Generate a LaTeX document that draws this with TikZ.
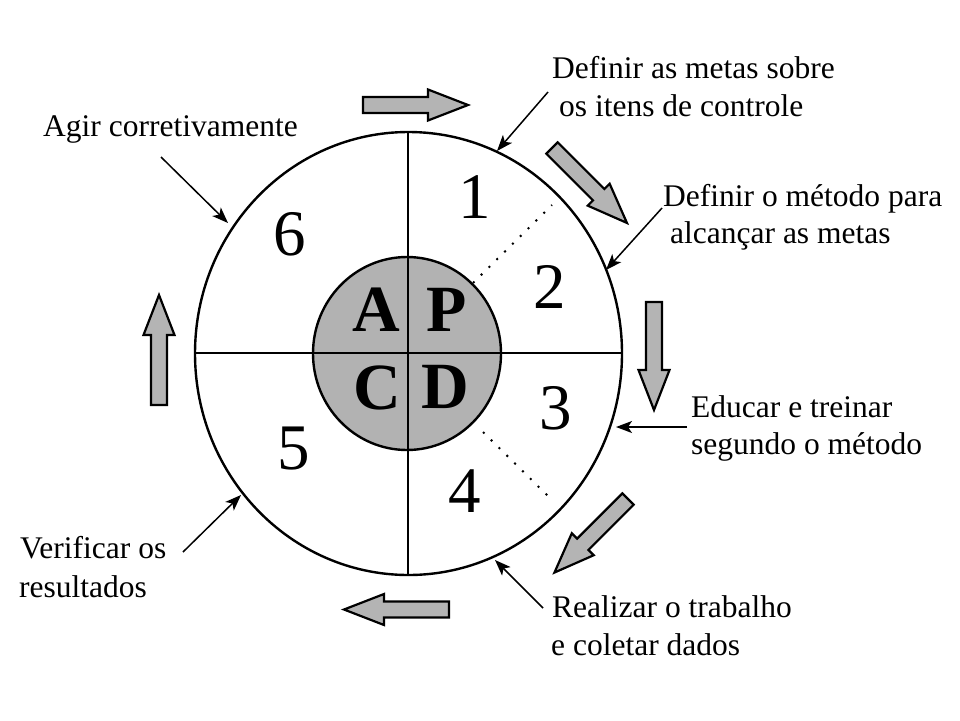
\documentclass[tikz,border=0pt]{standalone}
\usepackage{fontspec}
\setmainfont{Liberation Serif}
\usetikzlibrary{arrows.meta}
\definecolor{arrowgray}{RGB}{180,180,180}
\definecolor{diskgray}{RGB}{178,178,178}
\begin{document}
\begin{tikzpicture}[x=1pt,y=-1pt,
  lbl/.style={anchor=base west, inner sep=0pt, font=\fontsize{31.5}{36}\selectfont},
  numtxt/.style={inner sep=0pt, font=\fontsize{65}{70}\selectfont},
  apdc/.style={inner sep=0pt, font=\bfseries\fontsize{66}{70}\selectfont},
  ptr/.style={line width=1.5pt, -{Stealth[length=16pt,width=12pt,inset=4pt]}},
  ring/.style={line width=2.4pt},
  dotline/.style={line width=2pt, dash pattern=on 2pt off 9pt},
  blkfill/.style={fill=arrowgray, draw=black, line width=2.2pt, line join=miter},
  pics/blk/.style={code={\draw[blkfill] (0,-8) -- ({#1-40},-8) -- ({#1-40},-15.5) -- (#1,0) -- ({#1-40},15.5) -- ({#1-40},8) -- (0,8) -- cycle;}}
]
\useasboundingbox[fill=white] (0,0) rectangle (960,720);

% inner disk
\fill[diskgray] (407,353.5) ellipse [x radius=94, y radius=96.5];
\draw[ring] (407,353.5) ellipse [x radius=94, y radius=96.5];
% dividing lines
\coordinate (vt) at (408,132);
\coordinate (vb) at (408,575);
\coordinate (hl) at (195,353);
\coordinate (hr) at (622,353);
\draw[ring] (vt) -- (vb);
\draw[ring] (hl) -- (hr);
% outer circle
\draw[ring] (408.5,353.5) ellipse [x radius=213.5, y radius=221.5];
% dotted lines
\coordinate (d1a) at (473,283);
\coordinate (d1b) at (552,205);
\coordinate (d2a) at (483,432);
\coordinate (d2b) at (551,499);
\draw[dotline] (d1a) -- (d1b);
\draw[dotline] (d2a) -- (d2b);

% numbers
\node[numtxt] (n1) at (475,197) {1};
\node[numtxt] (n2) at (550,287) {2};
\node[numtxt] (n3) at (556,408) {3};
\node[numtxt] (n4) at (465,491) {4};
\node[numtxt] (n5) at (294,449) {5};
\node[numtxt] (n6) at (290,234) {6};

% letters
\node[apdc] (lA) at (376.5,310) {A};
\node[apdc] (lP) at (447,310) {P};
\node[apdc] (lC) at (377,388) {C};
\node[apdc] (lD) at (445,387) {D};

% block arrows
\pic[rotate=0] (arrA) at (363,105) {blk=105};
\pic[rotate=-45] (arrB) at (552,148) {blk=106};
\pic[rotate=-90] (arrC) at (654,302) {blk=108};
\pic[rotate=-135] (arrD) at (628,499) {blk=104};
\pic[rotate=180] (arrE) at (449,609.5) {blk=105};
\pic[rotate=90] (arrF) at (159,405) {blk=110};

% labels
\node[lbl] (t1a) at (552,78) {Definir as metas sobre};
\node[lbl] (t1b) at (559,116) {os itens de controle};
\node[lbl] (t2a) at (663,206) {Definir o método para};
\node[lbl] (t2b) at (670,243) {alcançar as metas};
\node[lbl] (t3a) at (691,417) {Educar e treinar};
\node[lbl] (t3b) at (691,454) {segundo o método};
\node[lbl] (t4a) at (552,617) {Realizar o trabalho};
\node[lbl] (t4b) at (551,655) {e coletar dados};
\node[lbl] (t5a) at (20,558) {Verificar os};
\node[lbl] (t5b) at (19,597) {resultados};
\node[lbl] (t6) at (43,136) {Agir corretivamente};

% pointer arrows
\coordinate (p1s) at (548,92);  \coordinate (p1e) at (497,151);
\coordinate (p2s) at (662,208); \coordinate (p2e) at (606,270);
\coordinate (p3s) at (687,427); \coordinate (p3e) at (616,427);
\coordinate (p4s) at (543,608); \coordinate (p4e) at (495,560);
\coordinate (p5s) at (183,552); \coordinate (p5e) at (241,495);
\coordinate (p6s) at (161,157); \coordinate (p6e) at (228,223);
\draw[ptr] (p1s) -- (p1e);
\draw[ptr] (p2s) -- (p2e);
\draw[ptr] (p3s) -- (p3e);
\draw[ptr] (p4s) -- (p4e);
\draw[ptr] (p5s) -- (p5e);
\draw[ptr] (p6s) -- (p6e);
\end{tikzpicture}
\end{document}
